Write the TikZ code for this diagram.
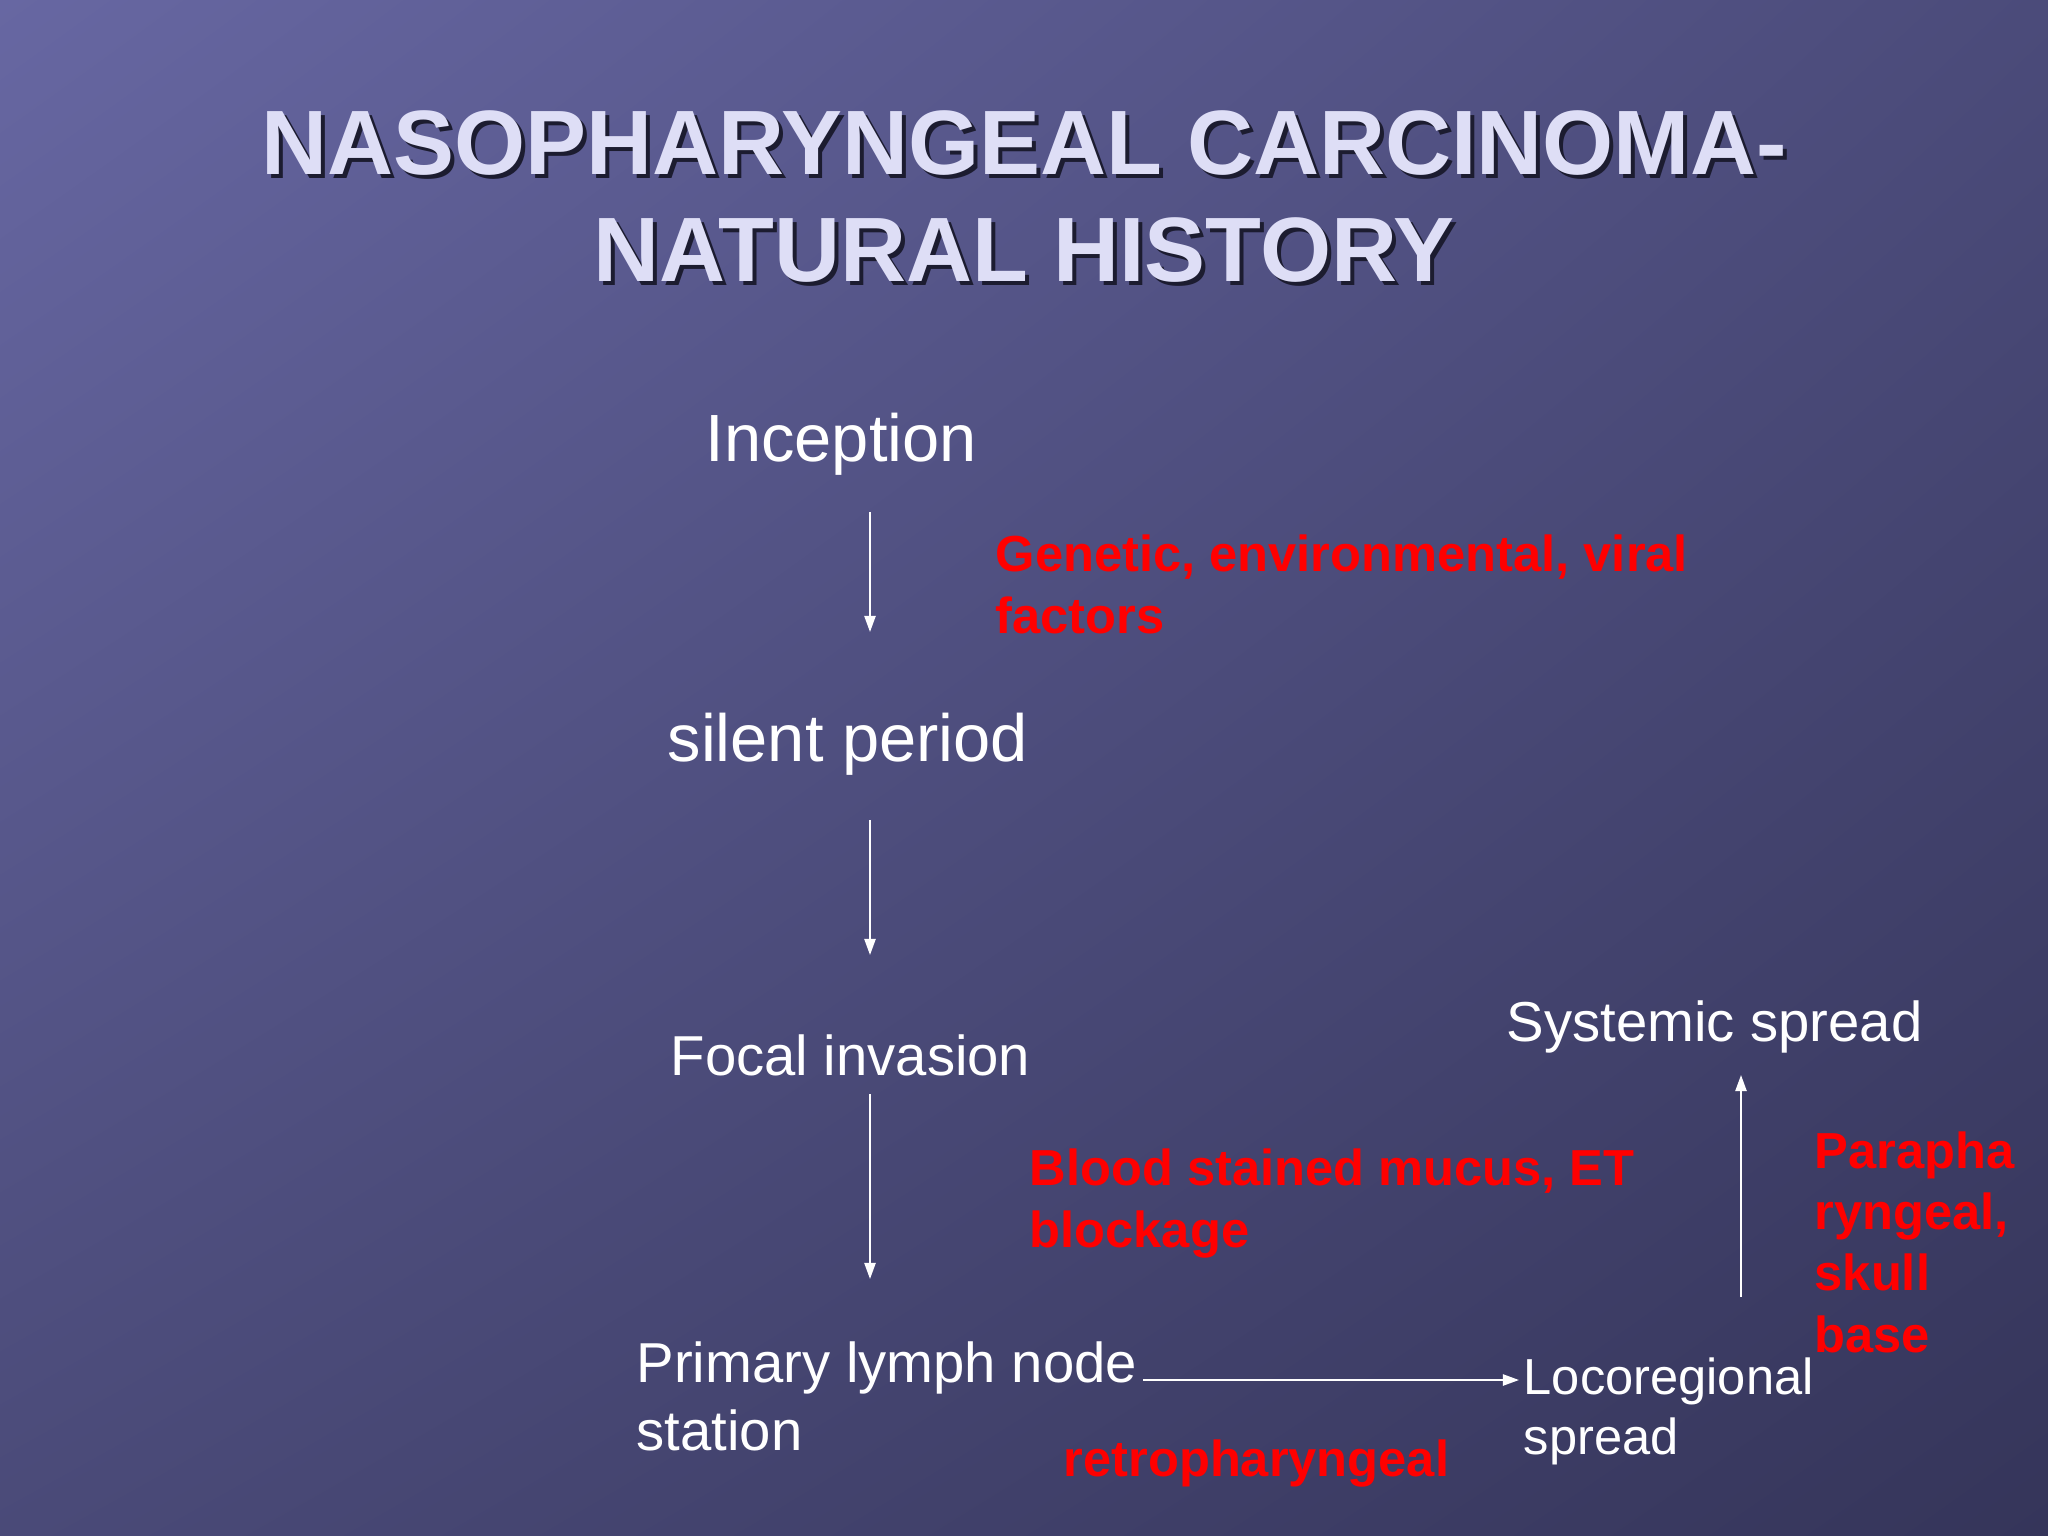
\documentclass[tikz,border=0pt]{standalone}
\usepackage{fontspec}
\setmainfont{Liberation Sans}
\usetikzlibrary{arrows.meta,shadings}
\definecolor{bgUL}{HTML}{6767A2}
\definecolor{bgUR}{HTML}{4B4B7A}
\definecolor{bgLL}{HTML}{4A4A78}
\definecolor{bgLR}{HTML}{35355A}
\definecolor{titlecol}{HTML}{DEDEF6}
\definecolor{shadowcol}{HTML}{1C1C30}
\definecolor{redtxt}{HTML}{FF0000}
\tikzset{
  titletxt/.style={anchor=base, text=titlecol, inner sep=0pt, font=\fontsize{26}{31}\selectfont\bfseries},
  titleshd/.style={anchor=base, text=shadowcol, inner sep=0pt, font=\fontsize{26}{31}\selectfont\bfseries},
  bigtxt/.style={anchor=base west, text=white, inner sep=0pt, font=\fontsize{19}{23}\selectfont},
  midtxt/.style={anchor=base west, text=white, inner sep=0pt, align=left, font=\fontsize{16}{19.3}\selectfont},
  smalltxt/.style={anchor=base west, text=white, inner sep=0pt, align=left, font=\fontsize{14.4}{17}\selectfont},
  redlbl/.style={anchor=base west, text=redtxt, inner sep=0pt, align=left, font=\fontsize{14.4}{17.4}\selectfont\bfseries},
  flow/.style={draw=white, line width=0.55pt, -{Triangle[width=3.2pt,length=4.6pt]}}
}
\begin{document}
\begin{tikzpicture}[x=0.01cm,y=-0.01cm]
\useasboundingbox (0,0) rectangle (2048,1536);
\shade[upper left=bgUL, upper right=bgUR, lower left=bgLL, lower right=bgLR] (0,0) rectangle (2048,1536);
% title
\node[titleshd] (t1s) at (1028,178) {NASOPHARYNGEAL CARCINOMA-};
\node[titletxt] (t1) at (1024,174) {NASOPHARYNGEAL CARCINOMA-};
\node[titleshd] (t2s) at (1028,285) {NATURAL HISTORY};
\node[titletxt] (t2) at (1024,281) {NATURAL HISTORY};
% stages (multi-line nodes: base anchor = last line's baseline)
\node[bigtxt] (inc) at (705,461) {Inception};
\node[bigtxt] (sil) at (667,761) {silent period};
\node[midtxt] (foc) at (670,1075) {Focal invasion};
\node[midtxt] (sys) at (1506,1041) {Systemic spread};
\node[midtxt] (prim) at (636,1450) {Primary lymph node\\station};
\node[smalltxt] (loco) at (1523,1454) {Locoregional\\spread};
% red labels
\node[redlbl] (gen) at (995,633) {Genetic, environmental, viral\\factors};
\node[redlbl] (blood) at (1029,1247) {Blood stained mucus, ET\\blockage};
\node[redlbl] (para) at (1814,1352) {Parapha\\ryngeal,\\skull\\base};
\node[redlbl] (retro) at (1063,1476) {retropharyngeal};
% connectors
\coordinate (a1s) at (870,512);
\coordinate (a1e) at (870,632);
\coordinate (a2s) at (870,820);
\coordinate (a2e) at (870,955);
\coordinate (a3s) at (870,1094);
\coordinate (a3e) at (870,1279);
\coordinate (a4s) at (1741,1297);
\coordinate (a4e) at (1741,1075);
\coordinate (a5s) at (1143,1380);
\coordinate (a5e) at (1519,1380);
\draw[flow] (a1s) -- (a1e);
\draw[flow] (a2s) -- (a2e);
\draw[flow] (a3s) -- (a3e);
\draw[flow] (a4s) -- (a4e);
\draw[flow] (a5s) -- (a5e);
\end{tikzpicture}
\end{document}
